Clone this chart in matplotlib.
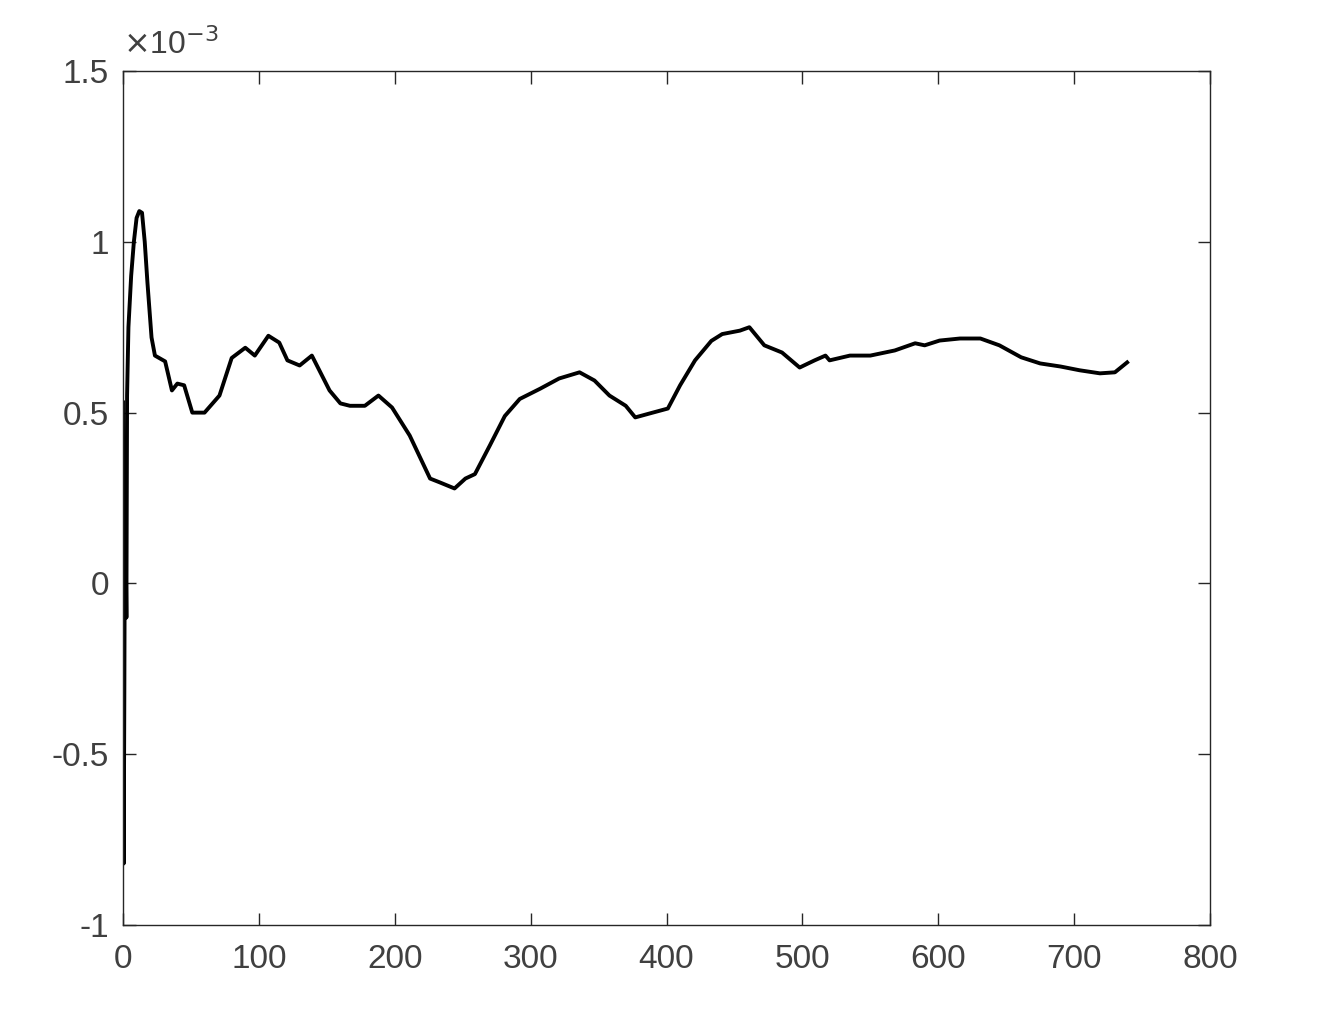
import numpy as np
import matplotlib
matplotlib.use("Agg")
import matplotlib.pyplot as plt
from matplotlib.ticker import FuncFormatter

# values (x = sample index, y in units of 1e-3)
x_vals = [0, 0.5, 1, 1.5, 2, 2.5, 3, 4, 6, 8, 10, 12, 14, 16, 18, 21,
          23.5, 31, 36, 40, 45, 51, 60, 71, 80, 90, 97, 107, 115, 121,
          130, 139, 152, 160, 167, 178, 188, 198, 211, 226, 233, 244,
          252, 259, 270, 281, 292, 307, 321, 336, 347, 358, 370, 377,
          388, 401, 410, 421, 433, 441, 454, 461, 472, 485, 498, 509,
          517, 520, 535, 550, 568, 583, 590, 601, 616, 631, 645, 661,
          675, 690, 704, 719, 730, 739]
y_vals = [0.53, -0.82, -0.3, 0.35, 0.1, -0.1, 0.55, 0.75, 0.9, 1.0, 1.07,
          1.09, 1.085, 1.0, 0.88, 0.72,
          0.667, 0.65, 0.565, 0.585, 0.58, 0.5, 0.5, 0.55, 0.66, 0.69,
          0.667, 0.725, 0.705, 0.653, 0.638, 0.667, 0.565, 0.527, 0.52,
          0.52, 0.55, 0.515, 0.433, 0.307, 0.296, 0.278, 0.307, 0.32,
          0.404, 0.49, 0.54, 0.57, 0.6, 0.618, 0.594, 0.55, 0.52, 0.486,
          0.498, 0.512, 0.58, 0.653, 0.71, 0.73, 0.74, 0.75, 0.697, 0.676,
          0.632, 0.653, 0.667, 0.653, 0.667, 0.667, 0.682, 0.703, 0.697,
          0.711, 0.717, 0.717, 0.697, 0.662, 0.644, 0.635, 0.624, 0.615,
          0.618, 0.647]

x_ticks = [0, 100, 200, 300, 400, 500, 600, 700, 800]
y_ticks = [-1e-3, -0.5e-3, 0, 0.5e-3, 1e-3, 1.5e-3]

plt.rcParams['font.family'] = ['Liberation Sans', 'DejaVu Sans']

fig = plt.figure(figsize=(13.24, 10.34), dpi=100)
ax = fig.add_axes([0.0929, 0.1054, 0.821, 0.8259])

y = np.array(y_vals) * 1e-3
ax.plot(x_vals, y, color='black', linewidth=2.8)

ax.set_xlim(0, 800)
ax.set_ylim(-1e-3, 1.5e-3)
ax.set_xticks(x_ticks)
ax.set_yticks(y_ticks)
ax.yaxis.set_major_formatter(FuncFormatter(lambda v, p: f"{v*1e3:g}".replace('\u2212', '-')))

for s in ax.spines.values():
    s.set_color('#262626')
    s.set_linewidth(1.0)
ax.tick_params(direction='in', length=9, width=1.0, top=True, right=True,
               labelsize=24, colors='#262626', labelcolor='#404040')
ax.tick_params(axis='x', pad=14)
ax.tick_params(axis='y', pad=10)

ax.text(0.0, 1.012, r'$\times$10$^{-3}$', transform=ax.transAxes,
        fontsize=23, color='#404040', ha='left', va='bottom')

fig.savefig('out.png', dpi=100, facecolor='white')
